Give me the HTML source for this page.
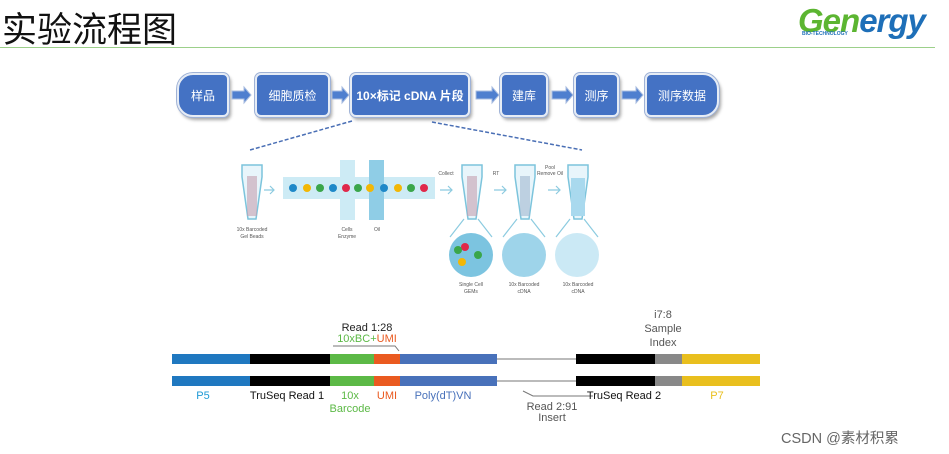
<!DOCTYPE html>
<html><head><meta charset="utf-8"><style>
body{margin:0;width:949px;height:454px;background:#fff;position:relative;overflow:hidden;font-family:"Liberation Sans","Noto Sans CJK SC",sans-serif}
.a{position:absolute}
.box{position:absolute;background:#4472c4;border:2px solid #e6ecf5;box-shadow:0 0 0 1px #9fb2d6,2px 3px 3px rgba(0,0,0,.35);color:#fff;font-size:12px;display:flex;align-items:center;justify-content:center;border-radius:6px;box-sizing:border-box}
</style></head><body>
<div class="a" style="left:2px;top:2px;font-size:35px;color:#111;font-family:'Noto Sans CJK SC',sans-serif">实验流程图</div>
<div class="a" style="left:0;top:47px;width:935px;height:1px;background:#9cd08a"></div>
<div class="a" style="left:798px;top:2px;font:italic 900 33px 'Liberation Sans',sans-serif;letter-spacing:-1px"><span style="color:#5cb531">Gen</span><span style="color:#1e6fb8">ergy</span></div>
<div class="a" style="left:802px;top:31px;font:bold 5px 'Liberation Sans';color:#1e6fb8">BIO-TECHNOLOGY</div>

<div class="box" style="left:177px;top:73px;width:52px;height:44px;border-radius:16px 6px 6px 16px">样品</div>
<div class="box" style="left:255px;top:73px;width:75px;height:44px">细胞质检</div>
<div class="box" style="left:350px;top:73px;width:120px;height:44px;font-weight:bold">10×标记 cDNA 片段</div>
<div class="box" style="left:500px;top:73px;width:48px;height:44px">建库</div>
<div class="box" style="left:574px;top:73px;width:45px;height:44px">测序</div>
<div class="box" style="left:645px;top:73px;width:74px;height:44px;border-radius:6px 16px 16px 6px">测序数据</div>
<svg class="a" style="left:0;top:0" width="949" height="454">
<g fill="#4f7fcf" stroke="#a9bde0" stroke-width="1">
<path d="M232 91h12v-4l7 8-7 8v-4h-12z"/>
<path d="M332 91h10v-4l7 8-7 8v-4h-10z"/>
<path d="M476 91h16v-4l7 8-7 8v-4h-16z"/>
<path d="M552 91h14v-4l7 8-7 8v-4h-14z"/>
<path d="M622 91h14v-4l7 8-7 8v-4h-14z"/>
</g>
<g stroke="#4a6fb5" stroke-width="1.5" stroke-dasharray="4 2"><line x1="352" y1="121" x2="250" y2="150"/><line x1="432" y1="122" x2="582" y2="150"/></g>
<g fill="#e8f5fb" stroke="#7cc4dc" stroke-width="1.5">
<path d="M242 165h20v12l-6 42h-8l-6-42z"/>
<path d="M462 165h20v12l-6 42h-8l-6-42z"/>
<path d="M515 165h20v12l-6 42h-8l-6-42z"/>
<path d="M568 165h20v12l-6 42h-8l-6-42z"/>
</g>
<rect x="247" y="176" width="10" height="40" fill="#c5a0b0" opacity=".6"/>
<rect x="467" y="176" width="10" height="40" fill="#c5a0b0" opacity=".6"/>
<rect x="520" y="176" width="10" height="40" fill="#a0b8d0" opacity=".6"/>
<rect x="571" y="178" width="14" height="38" fill="#a9d9ee"/>
<rect x="283" y="177" width="152" height="22" fill="#cdebf5"/>
<rect x="340" y="160" width="15" height="60" fill="#cdebf5"/>
<rect x="369" y="160" width="15" height="60" fill="#8fcde6"/>
<g><circle cx="293" cy="188" r="4" fill="#1e88c8"/><circle cx="307" cy="188" r="4" fill="#f2b705"/><circle cx="320" cy="188" r="4" fill="#3aa64a"/><circle cx="333" cy="188" r="4" fill="#1e88c8"/><circle cx="346" cy="188" r="4" fill="#e0284a"/><circle cx="358" cy="188" r="4" fill="#3aa64a"/><circle cx="370" cy="188" r="4" fill="#f2b705"/><circle cx="384" cy="188" r="4" fill="#1e88c8"/><circle cx="398" cy="188" r="4" fill="#f2b705"/><circle cx="411" cy="188" r="4" fill="#3aa64a"/><circle cx="424" cy="188" r="4" fill="#e0284a"/></g>
<g stroke="#8ccbe0" stroke-width="1.2" fill="none"><path d="M264 190h10M270 186l4 4-4 4"/><path d="M440 190h12M448 186l4 4-4 4"/><path d="M494 190h12M502 186l4 4-4 4"/><path d="M548 190h12M556 186l4 4-4 4"/>
<path d="M464 219l-14 18M478 219l14 18M517 219l-14 18M531 219l14 18M570 219l-14 18M584 219l14 18"/></g>
<circle cx="471" cy="255" r="22" fill="#7cc4e0"/><circle cx="524" cy="255" r="22" fill="#9ed4ea"/><circle cx="577" cy="255" r="22" fill="#cbe9f5"/>
<circle cx="465" cy="247" r="4" fill="#e0284a"/><circle cx="478" cy="255" r="4" fill="#3aa64a"/><circle cx="462" cy="262" r="4" fill="#f2b705"/><circle cx="458" cy="250" r="4" fill="#3aa64a"/>
<g font-size="5" fill="#555" text-anchor="middle"><text x="252" y="231">10x Barcoded</text><text x="252" y="238">Gel Beads</text><text x="347" y="231">Cells</text><text x="347" y="238">Enzyme</text><text x="377" y="231">Oil</text><text x="446" y="175">Collect</text><text x="496" y="175">RT</text><text x="550" y="169">Pool</text><text x="550" y="175">Remove Oil</text><text x="471" y="286">Single Cell</text><text x="471" y="293">GEMs</text><text x="524" y="286">10x Barcoded</text><text x="524" y="293">cDNA</text><text x="578" y="286">10x Barcoded</text><text x="578" y="293">cDNA</text></g>
<g>
<rect x="172" y="354" width="78" height="10" fill="#1f78c0"/><rect x="250" y="354" width="80" height="10" fill="#000"/><rect x="330" y="354" width="44" height="10" fill="#5cb946"/><rect x="374" y="354" width="26" height="10" fill="#ea5a20"/><rect x="400" y="354" width="97" height="10" fill="#4871ba"/><rect x="497" y="358" width="79" height="2" fill="#bbb"/><rect x="576" y="354" width="79" height="10" fill="#000"/><rect x="655" y="354" width="27" height="10" fill="#888"/><rect x="682" y="354" width="78" height="10" fill="#e9bf1e"/>
<rect x="172" y="376" width="78" height="10" fill="#1f78c0"/><rect x="250" y="376" width="80" height="10" fill="#000"/><rect x="330" y="376" width="44" height="10" fill="#5cb946"/><rect x="374" y="376" width="26" height="10" fill="#ea5a20"/><rect x="400" y="376" width="97" height="10" fill="#4871ba"/><rect x="497" y="380" width="79" height="2" fill="#bbb"/><rect x="576" y="376" width="79" height="10" fill="#000"/><rect x="655" y="376" width="27" height="10" fill="#888"/><rect x="682" y="376" width="78" height="10" fill="#e9bf1e"/>
</g>
<g stroke="#777" fill="none" stroke-width="1"><path d="M333 346h62l4 5"/><path d="M523 391l10 5h60"/></g>
<g font-size="11" text-anchor="middle">
<text x="367" y="331" fill="#222">Read 1:28</text><text x="367" y="342"><tspan fill="#5cb946">10xBC+</tspan><tspan fill="#ea5a20">UMI</tspan></text>
<text x="663" y="318" fill="#555">i7:8</text><text x="663" y="332" fill="#555">Sample</text><text x="663" y="346" fill="#555">Index</text>
<text x="203" y="399" fill="#1f9ad6">P5</text><text x="287" y="399" fill="#111">TruSeq Read 1</text><text x="350" y="399" fill="#5cb946">10x</text><text x="350" y="412" fill="#5cb946">Barcode</text><text x="387" y="399" fill="#ea5a20">UMI</text><text x="443" y="399" fill="#4871ba">Poly(dT)VN</text><text x="552" y="410" fill="#555">Read 2:91</text><text x="552" y="421" fill="#555">Insert</text><text x="624" y="399" fill="#111">TruSeq Read 2</text><text x="717" y="399" fill="#e9bf1e">P7</text>
</g>
<text x="781" y="443" font-size="14.5" fill="#666" font-family="'Liberation Sans','Noto Sans CJK SC',sans-serif">CSDN @素材积累</text>
</svg>
</body></html>
